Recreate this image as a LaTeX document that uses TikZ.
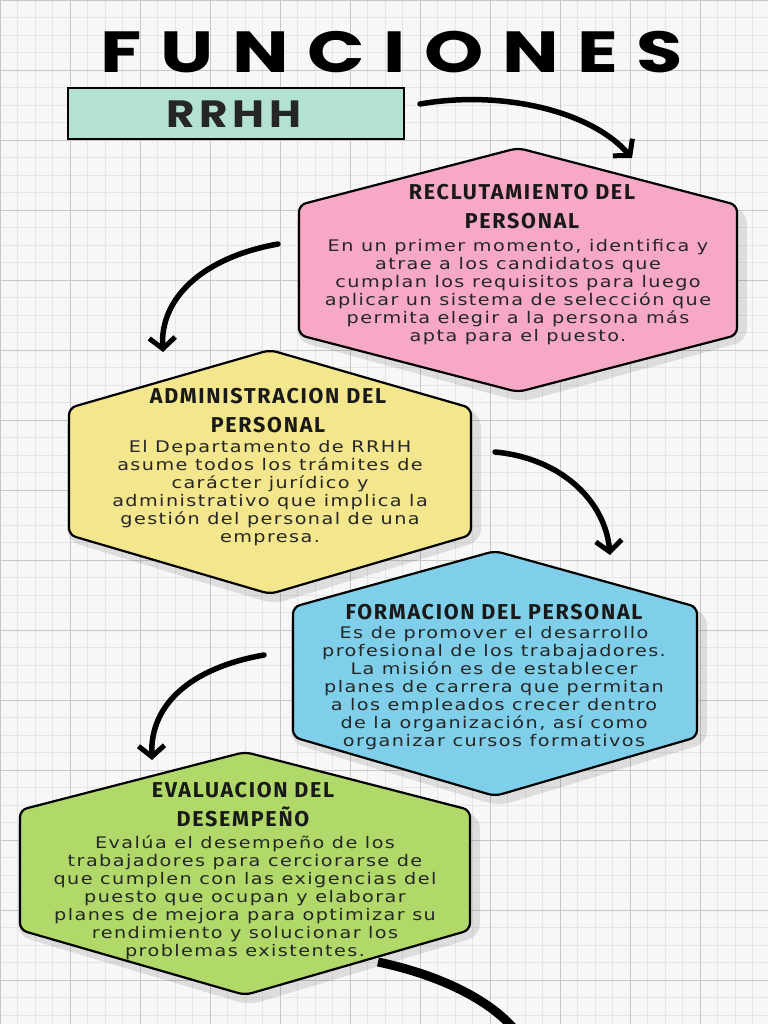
\documentclass[tikz,border=0pt]{standalone}
\usepackage{fontspec}
\setmainfont{DejaVu Sans}[LetterSpace=9,FakeStretch=1.2]
\newfontfamily\headfont{Fira Sans}[LetterSpace=8]
\newfontfamily\titlefont{Poppins}[LetterSpace=32,FakeStretch=1.3]
\newfontfamily\rrhhfont{Poppins}[LetterSpace=12,FakeStretch=1.15]
\usetikzlibrary{arrows.meta}
\definecolor{pinkc}{HTML}{F6A8C6}
\definecolor{yelc}{HTML}{F3E68C}
\definecolor{bluec}{HTML}{7FCFEA}
\definecolor{greenc}{HTML}{B1D96A}
\definecolor{mint}{HTML}{B3E2D4}
\begin{document}
\begin{tikzpicture}[x=1pt,y=-1pt,
  hexa/.style={draw=black,line width=2.2pt,rounded corners=7pt},
  shade/.style={fill=black,opacity=0.10,rounded corners=12pt},
  head/.style={font=\headfont\bfseries\fontsize{21.5}{29}\selectfont,align=center,text=black!90,inner sep=1pt},
  body/.style={font=\fontsize{16}{18}\selectfont,align=center,text=black!85,inner sep=1pt},
  arr/.style={line width=5.5pt,line cap=round,-{Straight Barb[length=11pt,width=26pt,line width=5pt]}}]
\useasboundingbox (0,0) rectangle (768,1024);
\fill[white!97!black] (0,0) rectangle (768,1024);
\draw[black!10,line width=0.5pt,step=17.5pt] (0,0) grid (768,1024);
\draw[black!22,line width=0.9pt,step=70pt] (0,0) grid (768,1024);
% title
\node[font=\titlefont\bfseries\fontsize{58}{60}\selectfont] (title) at (392,52) {FUNCIONES};
\node[draw=black,line width=2pt,fill=mint,minimum width=336pt,minimum height=51pt,anchor=north west,inner sep=0pt] (rrhh) at (67,87) {};
\node[font=\rrhhfont\bfseries\fontsize{38}{40}\selectfont,text=black!85] (rrhht) at (234,114) {RRHH};
% hexagons
\foreach \cx/\cy/\w/\t/\m/\b/\c in {518/148/219/205/335/392/pinkc, 270/350/201/408/535/594/yelc, 495/551/202/607/737/796/bluec, 245/752/225/810/930/995/greenc}{
  \fill[shade] (\cx+4,\cy+4)--(\cx-\w-2,\t+6)--(\cx-\w-2,\m+6)--(\cx+4,\b+10)--(\cx+\w+10,\m+6)--(\cx+\w+10,\t+6)--cycle;
  \draw[hexa,fill=\c] (\cx,\cy)--(\cx-\w,\t)--(\cx-\w,\m)--(\cx,\b)--(\cx+\w,\m)--(\cx+\w,\t)--cycle;
}
% texts
\node[head] (h1) at (522,207) {RECLUTAMIENTO DEL\\PERSONAL};
\node[body] (b1) at (518,292) {En un primer momento, identifica y\\atrae a los candidatos que\\cumplan los requisitos para luego\\aplicar un sistema de selección que\\permita elegir a la persona más\\apta para el puesto.};
\node[head] (h2) at (268,411) {ADMINISTRACION DEL\\PERSONAL};
\node[body] (b2) at (270,493) {El Departamento de RRHH\\asume todos los trámites de\\carácter jurídico y\\administrativo que implica la\\gestión del personal de una\\empresa.};
\node[head] (h3) at (494,612) {FORMACION DEL PERSONAL};
\node[body] (b3) at (494,688) {Es de promover el desarrollo\\profesional de los trabajadores.\\La misión es de establecer\\planes de carrera que permitan\\a los empleados crecer dentro\\de la organización, así como\\organizar cursos formativos};
\node[head] (h4) at (243,805) {EVALUACION DEL\\DESEMPEÑO};
\node[body] (b4) at (245,898) {Evalúa el desempeño de los\\trabajadores para cerciorarse de\\que cumplen con las exigencias del\\puesto que ocupan y elaborar\\planes de mejora para optimizar su\\rendimiento y solucionar los\\problemas existentes.};
% arrows
\coordinate (a1s) at (420,104); \coordinate (a1e) at (632,158);
\coordinate (a2s) at (278,244); \coordinate (a2e) at (163,352);
\coordinate (a3s) at (495,452); \coordinate (a3e) at (610,555);
\coordinate (a4s) at (264,655); \coordinate (a4e) at (152,760);
\coordinate (a5s) at (378,962); \coordinate (a5e) at (515,1030);
\draw[arr] (a1s) .. controls (500,90) and (590,110) .. (a1e);
\draw[arr] (a2s) .. controls (200,258) and (160,300) .. (a2e);
\draw[arr] (a3s) .. controls (560,458) and (605,500) .. (a3e);
\draw[arr] (a4s) .. controls (190,668) and (150,705) .. (a4e);
\draw[line width=9pt] (a5s) .. controls (440,975) and (490,1000) .. (a5e);
\end{tikzpicture}
\end{document}
